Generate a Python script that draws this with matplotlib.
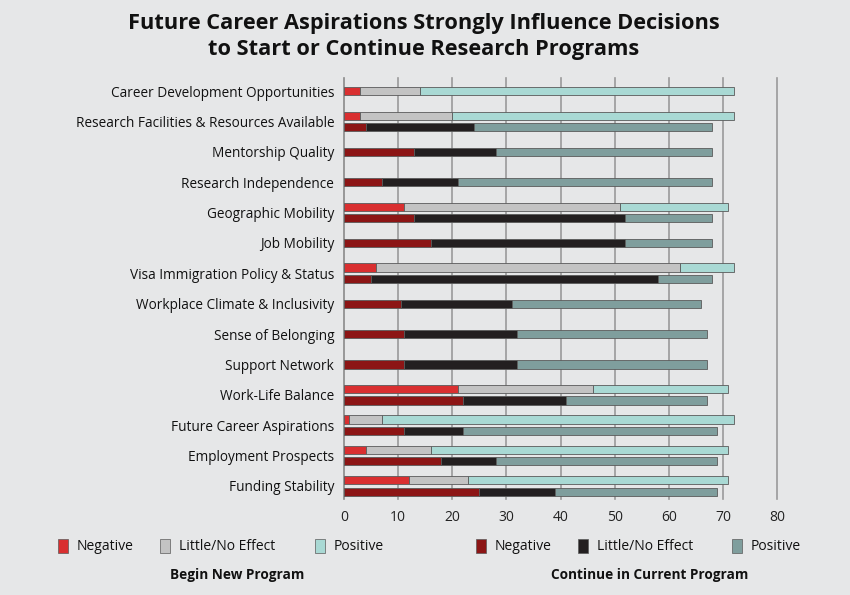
import matplotlib
matplotlib.use("Agg")
import matplotlib.pyplot as plt
from matplotlib.patches import Rectangle
import numpy as np

plt.rcParams['font.family'] = ['Open Sans', 'DejaVu Sans']

categories = [
    "Career Development Opportunities",
    "Research Facilities & Resources Available",
    "Mentorship Quality",
    "Research Independence",
    "Geographic Mobility",
    "Job Mobility",
    "Visa Immigration Policy & Status",
    "Workplace Climate & Inclusivity",
    "Sense of Belonging",
    "Support Network",
    "Work-Life Balance",
    "Future Career Aspirations",
    "Employment Prospects",
    "Funding Stability",
]

# Begin New Program (None = not asked)
begin_negative = [3, 3, None, None, 11, None, 6, None, None, None, 21, 1, 4, 12]
begin_little   = [11, 17, None, None, 40, None, 56, None, None, None, 25, 6, 12, 11]
begin_positive = [58, 52, None, None, 20, None, 10, None, None, None, 25, 65, 55, 48]

# Continue in Current Program
cont_negative = [None, 4, 13, 7, 13, 16, 5, 10.5, 11, 11, 22, 11, 18, 25]
cont_little   = [None, 20, 15, 14, 39, 36, 53, 20.5, 21, 21, 19, 11, 10, 14]
cont_positive = [None, 44, 40, 47, 16, 16, 10, 35, 35, 35, 26, 47, 41, 30]

x_ticks = [0, 10, 20, 30, 40, 50, 60, 70, 80]
legend_labels = ["Negative", "Little/No Effect", "Positive"]
group_titles = ["Begin New Program", "Continue in Current Program"]

begin_colors = ["#d92f30", "#c3c3c3", "#a9d9d4"]
cont_colors = ["#8c1515", "#231f20", "#7f9e9d"]
bg = "#e6e7e8"

fig = plt.figure(figsize=(8.5, 5.95), dpi=100, facecolor=bg)
ax = fig.add_axes([344/850, 1-499/595, (777-344)/850, (499-78)/595])
ax.set_facecolor(bg)

n = len(categories)
y = np.arange(n)
h = 0.27
off = 0.19

for i in range(n):
    has_b = begin_negative[i] is not None
    has_c = cont_negative[i] is not None
    if has_b and has_c:
        yb, yc = i - off, i + off
    else:
        yb = yc = i
    if has_b:
        left = 0
        for v, c in zip([begin_negative[i], begin_little[i], begin_positive[i]], begin_colors):
            ax.barh(yb, v, left=left, height=h, color=c, edgecolor="#5a5a5a", linewidth=0.6, zorder=3)
            left += v
    if has_c:
        left = 0
        for v, c in zip([cont_negative[i], cont_little[i], cont_positive[i]], cont_colors):
            ax.barh(yc, v, left=left, height=h, color=c, edgecolor="#5a5a5a", linewidth=0.6, zorder=3)
            left += v

ax.set_xlim(0, 80)
ax.set_ylim(n - 1 + 0.43, -0.43)
for t in x_ticks[1:]:
    ax.axvline(t, color="#9a9a9a", linewidth=1.2, zorder=1, clip_on=False)
ax.set_xticks(x_ticks)
ax.set_xticklabels([str(t) for t in x_ticks], fontsize=10, color="#222222")
ax.set_yticks(y)
ax.set_yticklabels(categories, fontsize=9.8, color="#111111")
ax.tick_params(axis="both", length=0)
ax.tick_params(axis="y", pad=7)
ax.tick_params(axis="x", pad=8)
for s in ["top", "right", "bottom"]:
    ax.spines[s].set_visible(False)
ax.spines["left"].set_color("#8a8a8a")
ax.spines["left"].set_linewidth(1.2)

fig.text(424/850, 1-24/595, "Future Career Aspirations Strongly Influence Decisions",
         ha="center", va="center", fontsize=15.7, fontweight="bold", color="#111111")
fig.text(424/850, 1-50/595, "to Start or Continue Research Programs",
         ha="center", va="center", fontsize=15.7, fontweight="bold", color="#111111")

# Legend
sq_x = [[58, 160, 315], [476, 578, 732]]
for g, (xs, cols) in enumerate(zip(sq_x, [begin_colors, cont_colors])):
    for xx, c, lab in zip(xs, cols, legend_labels):
        fig.patches.append(Rectangle((xx/850, 1-553/595), 10/850, 14/595,
                                     transform=fig.transFigure, facecolor=c,
                                     edgecolor="#5a5a5a", linewidth=0.5))
        fig.text((xx+19)/850, 1-546/595, lab, ha="left", va="center",
                 fontsize=10, color="#111111")
fig.text(237/850, 1-575/595, group_titles[0], ha="center", va="center",
         fontsize=9.8, fontweight="bold", color="#111111")
fig.text(650/850, 1-575/595, group_titles[1], ha="center", va="center",
         fontsize=9.8, fontweight="bold", color="#111111")

fig.savefig("out.png", dpi=100, facecolor=bg)
